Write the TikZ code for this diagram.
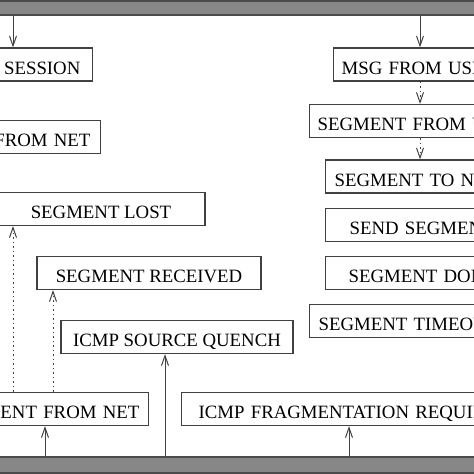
\documentclass[tikz,border=0pt]{standalone}
\usepackage{fontspec}
\setmainfont{Liberation Serif}
\usetikzlibrary{arrows.meta}
\definecolor{bargray}{RGB}{135,135,135}
\definecolor{bardark}{RGB}{75,75,75}
\definecolor{linegray}{RGB}{65,65,65}

\begin{document}
\begin{tikzpicture}[x=1pt, y=-1pt,
    box/.style={draw=linegray, line width=1.2pt, fill=white, text height=26pt, text depth=7pt, inner ysep=0pt, font=\fontsize{18.8pt}{22pt}\selectfont},
    leftcut/.style={box, anchor=east, text width=230pt, align=right},
    rightcut/.style={box, anchor=west, text width=340pt, align=left},
    bar/.style={draw=bardark, line width=2pt, fill=bargray, minimum width=500pt, inner sep=0pt},
    arrow/.style={-{Straight Barb[length=10pt, width=7pt]}, line width=1pt, draw=linegray},
    dotarrow/.style={arrow, dash pattern=on 1.5pt off 3pt}
]

    % Frame of the cut-out
    \useasboundingbox (0,0) rectangle (474,474);
    \clip (0,0) rectangle (474,474);

    % Top and bottom bars
    \node[bar, minimum height=14pt] (topbar) at (237,8) {};
    \node[bar, minimum height=16pt] (botbar) at (237,465) {};

    % Left column
    \node[leftcut, inner xsep=12pt] (sess) at (93,64.5) {SESSION};
    \node[leftcut, inner xsep=10pt] (fnet) at (101,137) {FROM NET};
    \node[box, minimum width=208pt] (lost) at (101,209) {SEGMENT LOST};
    \node[box, minimum width=224pt] (recv) at (149,273) {SEGMENT RECEIVED};
    \node[box, minimum width=232pt] (quench) at (177,337) {ICMP SOURCE QUENCH};
    \node[leftcut, inner xsep=9pt] (segnet) at (149,409) {SEGMENT FROM NET};
    \node[rightcut, inner xsep=17pt] (frag) at (181,409) {ICMP FRAGMENTATION REQUIRED};

    % Right column
    \node[rightcut, inner xsep=8pt] (msg) at (333,64.5) {MSG FROM USER};
    \node[rightcut, inner xsep=8pt] (segusr) at (309,121) {SEGMENT FROM USER};
    \node[rightcut, inner xsep=9pt] (segto) at (325,176.5) {SEGMENT TO NET};
    \node[rightcut, inner xsep=24pt] (send) at (325,225) {SEND SEGMENT};
    \node[rightcut, inner xsep=23pt] (done) at (325,273) {SEGMENT DONE};
    \node[rightcut, inner xsep=9pt] (timeo) at (309,321) {SEGMENT TIMEOUT};

    % Arrow columns
    \coordinate (xa) at (13,0);
    \coordinate (xb) at (53,0);
    \coordinate (xc) at (45,0);
    \coordinate (xd) at (165,0);
    \coordinate (xe) at (349,0);
    \coordinate (xf) at (420,0);

    % Arrows from the top bar
    \draw[arrow] (topbar.south -| xa) -- (sess.north -| xa);
    \draw[arrow] (topbar.south -| xf) -- (msg.north -| xf);
    \draw[dotarrow] (msg.south -| xf) -- (segusr.north -| xf);
    \draw[dotarrow] (segusr.south -| xf) -- (segto.north -| xf);

    % Arrows from the bottom bar
    \draw[arrow] (botbar.north -| xc) -- (segnet.south -| xc);
    \draw[arrow] (botbar.north -| xd) -- (quench.south -| xd);
    \draw[arrow] (botbar.north -| xe) -- (frag.south -| xe);
    \draw[dotarrow] (segnet.north -| xa) -- (lost.south -| xa);
    \draw[dotarrow] (segnet.north -| xb) -- (recv.south -| xb);

\end{tikzpicture}
\end{document}
